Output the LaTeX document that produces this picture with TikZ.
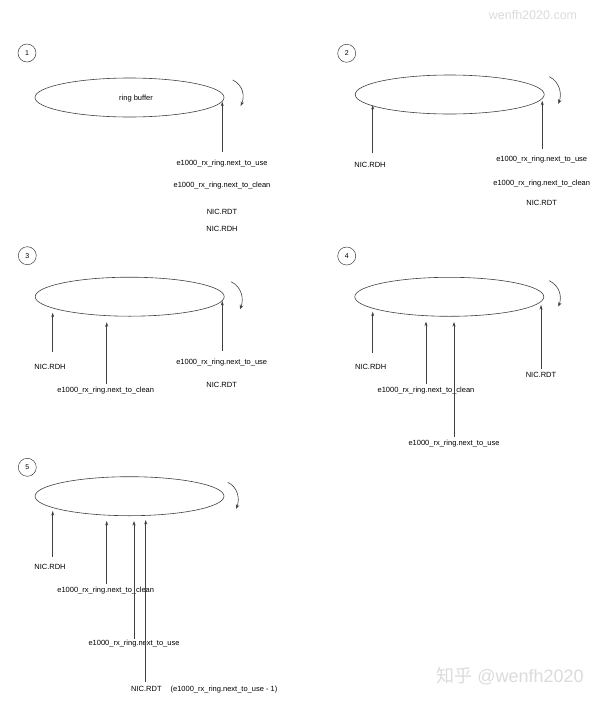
\documentclass[tikz,border=0pt]{standalone}
\usepackage{fontspec}
\setmainfont{Liberation Sans}
\newfontfamily\cjkfont{Noto Sans CJK SC}
\usetikzlibrary{shapes.geometric,arrows.meta}
\begin{document}
\begin{tikzpicture}[x=1pt,y=-1pt,
  ring/.style={draw=black!75, line width=0.6pt, ellipse, minimum width=189pt, minimum height=39pt, inner sep=0pt},
  num/.style={draw=black!75, line width=0.5pt, circle, minimum size=18pt, inner sep=0pt, font=\fontsize{7}{8}\selectfont},
  lbl/.style={font=\fontsize{7.5}{9}\selectfont, inner sep=1pt, text=black},
  ptr/.style={draw=black!75, line width=0.6pt, -{Stealth[length=4.5pt,width=3pt]}},
  turn/.style={draw=black!75, line width=0.6pt, -{Stealth[length=4.5pt,width=3.5pt]}},
  wm/.style={text=black!14}
]
\useasboundingbox (0,0) rectangle (600,702);

% watermarks
\node[wm, font=\fontsize{12.5}{14}\selectfont] (w1) at (533,15) {wenfh2020.com};
\node[wm, font=\fontsize{18}{20}\selectfont] (w2) at (510,676) {{\cjkfont 知乎} @wenfh2020};

% ---------- panel 1 ----------
\node[num] (n1) at (27,53) {1};
\node[ring] (r1) at (129.5,97.5) {};
\node[lbl] (rb) at (136,99) {ring buffer};
\coordinate (t1s) at (232.7,80); \coordinate (t1e) at (240.7,106);
\draw[turn] (t1s) .. controls (243,85) and (245,96) .. (t1e);
\node[lbl] (u1) at (222,163.3) {e1000\_rx\_ring.next\_to\_use};
\node[lbl] (c1) at (222,186) {e1000\_rx\_ring.next\_to\_clean};
\node[lbl] (d1) at (222,212.3) {NIC.RDT};
\node[lbl] (h1) at (222,229.3) {NIC.RDH};
\coordinate (u1a) at (222.3,151.7); \coordinate (u1b) at (222.3,101.7);
\draw[ptr] (u1a) -- (u1b);

% ---------- panel 2 ----------
\node[num] (n2) at (346.7,53.3) {2};
\node[ring] (r2) at (449.7,94.5) {};
\coordinate (t2s) at (549.3,76.7); \coordinate (t2e) at (558.3,104);
\draw[turn] (t2s) .. controls (560,82) and (562,94) .. (t2e);
\node[lbl] (h2) at (370,165) {NIC.RDH};
\coordinate (h2a) at (372.7,153.3); \coordinate (h2b) at (372.7,105);
\draw[ptr] (h2a) -- (h2b);
\node[lbl] (u2) at (541.7,160) {e1000\_rx\_ring.next\_to\_use};
\node[lbl] (c2) at (541.7,184) {e1000\_rx\_ring.next\_to\_clean};
\node[lbl] (d2) at (541.7,202.7) {NIC.RDT};
\coordinate (u2a) at (542.3,149.3); \coordinate (u2b) at (542.3,100.7);
\draw[ptr] (u2a) -- (u2b);

% ---------- panel 3 ----------
\node[num] (n3) at (27.3,255.7) {3};
\node[ring] (r3) at (129.7,296.7) {};
\coordinate (t3s) at (231,281.7); \coordinate (t3e) at (240,309.3);
\draw[turn] (t3s) .. controls (242,287) and (244,299) .. (t3e);
\node[lbl] (h3) at (50,367.3) {NIC.RDH};
\coordinate (h3a) at (52.7,351.7); \coordinate (h3b) at (52.7,312.7);
\draw[ptr] (h3a) -- (h3b);
\node[lbl] (c3) at (105.7,390.3) {e1000\_rx\_ring.next\_to\_clean};
\coordinate (c3a) at (106.7,384); \coordinate (c3b) at (106.7,322.3);
\draw[ptr] (c3a) -- (c3b);
\node[lbl] (u3) at (221.7,362.7) {e1000\_rx\_ring.next\_to\_use};
\node[lbl] (d3) at (221.7,385) {NIC.RDT};
\coordinate (u3a) at (222.3,351); \coordinate (u3b) at (222.3,301);
\draw[ptr] (u3a) -- (u3b);

% ---------- panel 4 ----------
\node[num] (n4) at (346.7,256) {4};
\node[ring] (r4) at (449.3,296.8) {};
\coordinate (t4s) at (549.3,280.7); \coordinate (t4e) at (558.3,306.7);
\draw[turn] (t4s) .. controls (560,286) and (562,297) .. (t4e);
\node[lbl] (h4) at (370.7,367.3) {NIC.RDH};
\coordinate (h4a) at (372.7,352.7); \coordinate (h4b) at (372.7,311.7);
\draw[ptr] (h4a) -- (h4b);
\node[lbl] (c4) at (426,390.3) {e1000\_rx\_ring.next\_to\_clean};
\coordinate (c4a) at (426,384); \coordinate (c4b) at (426,321.7);
\draw[ptr] (c4a) -- (c4b);
\node[lbl] (u4) at (454,443.3) {e1000\_rx\_ring.next\_to\_use};
\coordinate (u4a) at (454,436.7); \coordinate (u4b) at (454,322);
\draw[ptr] (u4a) -- (u4b);
\node[lbl] (d4) at (541,375) {NIC.RDT};
\coordinate (d4a) at (541,368.7); \coordinate (d4b) at (541,305);
\draw[ptr] (d4a) -- (d4b);

% ---------- panel 5 ----------
\node[num] (n5) at (27.3,467.3) {5};
\node[ring] (r5) at (129.5,496.2) {};
\coordinate (t5s) at (227.7,482.3); \coordinate (t5e) at (236,509);
\draw[turn] (t5s) .. controls (238,487) and (240,499) .. (t5e);
\node[lbl] (h5) at (50,567.3) {NIC.RDH};
\coordinate (h5a) at (52.7,556.7); \coordinate (h5b) at (52.7,511);
\draw[ptr] (h5a) -- (h5b);
\node[lbl] (c5) at (105.7,590.3) {e1000\_rx\_ring.next\_to\_clean};
\coordinate (c5a) at (106.7,584); \coordinate (c5b) at (106.7,521);
\draw[ptr] (c5a) -- (c5b);
\node[lbl] (u5) at (134,643.3) {e1000\_rx\_ring.next\_to\_use};
\coordinate (u5a) at (134,639); \coordinate (u5b) at (134,521);
\draw[ptr] (u5a) -- (u5b);
\node[lbl, anchor=west] (d5) at (130,689.3) {NIC.RDT\hspace{1.2em}(e1000\_rx\_ring.next\_to\_use - 1)};
\coordinate (d5a) at (145.7,681.7); \coordinate (d5b) at (145.7,520);
\draw[ptr] (d5a) -- (d5b);
\end{tikzpicture}
\end{document}
